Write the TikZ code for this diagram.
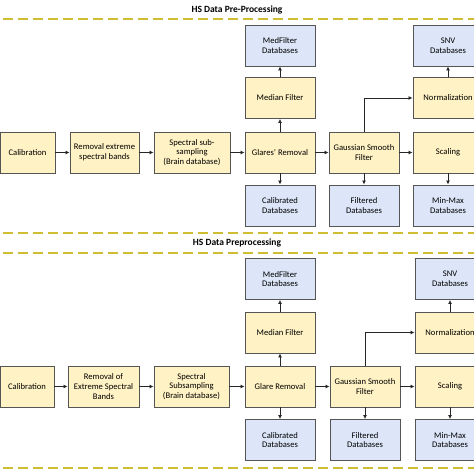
\documentclass[tikz,border=0pt]{standalone}
\usepackage{fontspec}
\setmainfont{Carlito}
\usetikzlibrary{arrows.meta, positioning}

\definecolor{procfill}{RGB}{255,242,196}
\definecolor{dbfill}{RGB}{220,230,248}
\definecolor{boxline}{RGB}{85,85,85}
\definecolor{sepline}{RGB}{208,190,50}

\begin{document}
\begin{tikzpicture}[
    x=1pt, y=-1pt,
    % Node styles
    procbox/.style={
        rectangle,
        draw=boxline,
        line width=0.9pt,
        fill=procfill,
        minimum width=70pt,
        minimum height=41pt,
        inner sep=1pt,
        font=\fontsize{8.6}{9.6}\selectfont,
        align=center
    },
    dbbox/.style={
        procbox,
        fill=dbfill
    },
    titletext/.style={
        font=\fontsize{9.5}{11}\selectfont\bfseries
    },
    sepdash/.style={
        draw=sepline,
        line width=1.5pt,
        dash pattern=on 10pt off 5pt
    },
    arrow/.style={
        -{Latex[length=4pt,width=4pt]},
        line width=0.9pt,
        black!85
    }
]
\useasboundingbox (0,0) rectangle (474,474);

% === Separators and titles ===
\draw[sepdash] (3,19) -- (474,19);
\draw[sepdash] (3,233) -- (474,233);
\draw[sepdash] (3,253) -- (474,253);
\draw[sepdash] (3,468) -- (474,468);
\node[titletext] (titleA) at (237,10) {HS Data Pre-Processing};
\node[titletext] (titleB) at (237,243) {HS Data Preprocessing};

% === Upper chain ===
\node[procbox, minimum width=55pt] (calibA) at (27.5,152.5) {Calibration};
\node[procbox, minimum width=69pt] (bandsA) at (104.5,152.5) {Removal extreme\\spectral bands};
\node[procbox, minimum width=76pt] (subsA) at (192,152.5) {Spectral sub-\\sampling\\(Brain database)};
\node[procbox] (glareA) at (280,152.5) {Glares' Removal};
\node[procbox] (gaussA) at (364,152.5) {Gaussian Smooth\\Filter};
\node[procbox] (scaleA) at (448,152.5) {Scaling};
\node[procbox] (medianA) at (280,98) {Median Filter};
\node[procbox] (normA) at (448,98) {Normalization};

% Databases
\node[dbbox] (medDbA) at (280,45.5) {MedFilter\\Databases};
\node[dbbox] (snvDbA) at (448,45.5) {SNV\\Databases};
\node[dbbox] (calDbA) at (280,205.5) {Calibrated\\Databases};
\node[dbbox] (filtDbA) at (364,205.5) {Filtered\\Databases};
\node[dbbox] (mmDbA) at (448,205.5) {Min-Max\\Databases};

% Arrows
\draw[arrow] (calibA) -- (bandsA);
\draw[arrow] (bandsA) -- (subsA);
\draw[arrow] (subsA) -- (glareA);
\draw[arrow] (glareA) -- (gaussA);
\draw[arrow] (gaussA) -- (scaleA);
\draw[arrow] (glareA) -- (medianA);
\draw[arrow] (medianA) -- (medDbA);
\draw[arrow] (glareA) -- (calDbA);
\draw[arrow] (gaussA) -- (filtDbA);
\draw[arrow] (scaleA) -- (mmDbA);
\draw[arrow] (normA) -- (snvDbA);
\draw[arrow] (gaussA.north) |- (normA.west);

% === Lower chain ===
\node[procbox, minimum width=54pt] (calibB) at (27,386.5) {Calibration};
\node[procbox, minimum width=71pt] (bandsB) at (103.5,386.5) {Removal of\\Extreme Spectral\\Bands};
\node[procbox, minimum width=75pt] (subsB) at (191.5,386.5) {Spectral\\Subsampling\\(Brain database)};
\node[procbox] (glareB) at (280,386.5) {Glare Removal};
\node[procbox] (gaussB) at (365,386.5) {Gaussian Smooth\\Filter};
\node[procbox] (scaleB) at (450,386.5) {Scaling};
\node[procbox] (medianB) at (280,332.5) {Median Filter};
\node[procbox] (normB) at (450,332.5) {Normalization};

% Databases
\node[dbbox] (medDbB) at (280,279) {MedFilter\\Databases};
\node[dbbox] (snvDbB) at (450,279) {SNV\\Databases};
\node[dbbox] (calDbB) at (280,440) {Calibrated\\Databases};
\node[dbbox] (filtDbB) at (365,440) {Filtered\\Databases};
\node[dbbox] (mmDbB) at (450,440) {Min-Max\\Databases};

% Arrows
\draw[arrow] (calibB) -- (bandsB);
\draw[arrow] (bandsB) -- (subsB);
\draw[arrow] (subsB) -- (glareB);
\draw[arrow] (glareB) -- (gaussB);
\draw[arrow] (gaussB) -- (scaleB);
\draw[arrow] (glareB) -- (medianB);
\draw[arrow] (medianB) -- (medDbB);
\draw[arrow] (glareB) -- (calDbB);
\draw[arrow] (gaussB) -- (filtDbB);
\draw[arrow] (scaleB) -- (mmDbB);
\draw[arrow] (normB) -- (snvDbB);
\draw[arrow] (gaussB.north) |- (normB.west);

\end{tikzpicture}
\end{document}
